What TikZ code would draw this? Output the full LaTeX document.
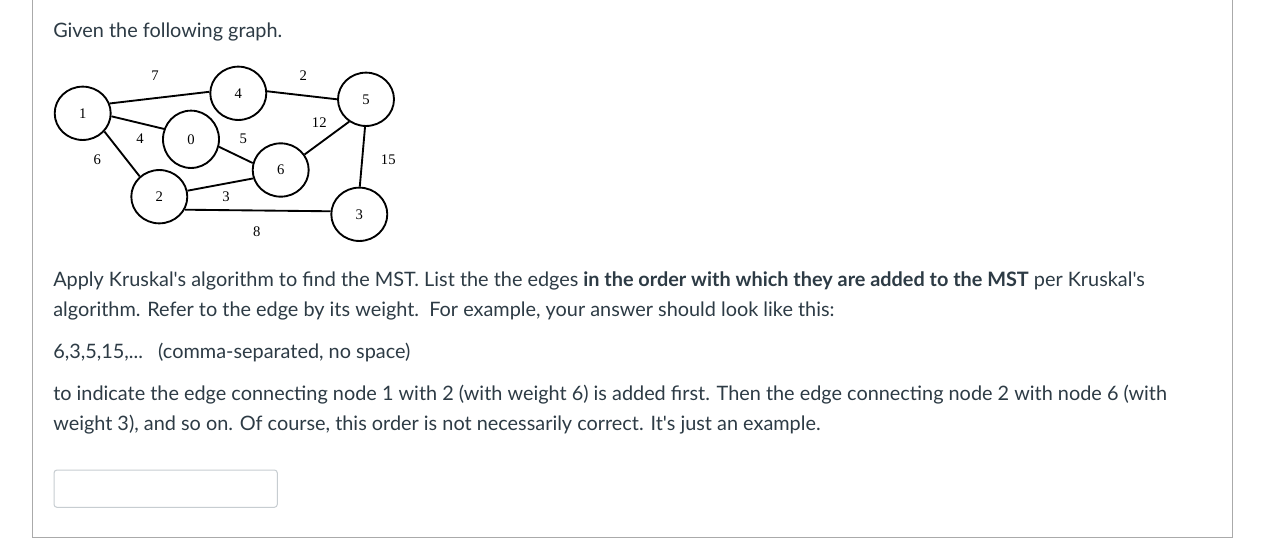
\documentclass[tikz,border=0pt]{standalone}
\usepackage{fontspec}
\setmainfont{Lato}[Ligatures=TeXOff]
\newfontfamily\graphfont{Liberation Serif}
\usetikzlibrary{shapes.geometric,positioning}
\definecolor{canvastext}{HTML}{2D3B45}
\definecolor{framegray}{HTML}{AAAAAA}
\definecolor{boxgray}{HTML}{C7CDD1}

\begin{document}
\begin{tikzpicture}[
    x=0.75pt, y=-0.75pt,
    vertex/.style={ellipse, draw, line width=1.4pt, minimum width=42pt, minimum height=40pt, inner sep=0pt, font=\graphfont\fontsize{11}{11}\selectfont},
    weight/.style={inner sep=0pt, font=\graphfont\fontsize{11}{11}\selectfont},
    edge/.style={line width=1.4pt},
    para/.style={anchor=base west, inner sep=0pt, text=canvastext, font=\fontsize{14.9}{18}\selectfont}
]
    \useasboundingbox (0,0) rectangle (1268,542);
    \fill[white] (0,0) rectangle (1268,542);

    % frame of the question
    \draw[framegray, line width=1pt] (32.5,0) -- (32.5,537.5) -- (1232.5,537.5) -- (1232.5,0);

    \node[para] (intro) at (53,38) {Given the following graph.};

    % the graph
    \node[vertex] (n1) at (82.7,113.3) {1};
    \node[vertex] (n4) at (238.3,93.3) {4};
    \node[vertex] (n5) at (366,99.3) {5};
    \node[vertex, minimum height=43pt] (n0) at (191,139.3) {0};
    \node[vertex] (n6) at (280.7,170) {6};
    \node[vertex] (n2) at (159.3,196.7) {2};
    \node[vertex] (n3) at (359.3,214.3) {3};

    \draw[edge] (n1.20) -- (n4.177);
    \draw[edge] (n1.-6) -- (n0.159);
    \draw[edge] (n1.-40) -- (n2.134);
    \draw[edge] (n4.4) -- (n5.180);
    \draw[edge] (n0.-15) -- (n6.166);
    \draw[edge] (n6.33) -- (n5.-127);
    \draw[edge] (n5.-92) -- (n3.89);
    \draw[edge] (n2.12) -- (n6.-163);
    \draw[edge] (n2.-27) -- (n3.174);

    \node[weight] (w7) at (155,76) {7};
    \node[weight] (w2) at (303.3,76) {2};
    \node[weight] (w4) at (140,138.3) {4};
    \node[weight] (w5) at (243.3,138.3) {5};
    \node[weight] (w12) at (319.3,122.7) {12};
    \node[weight] (w6) at (97.3,159.3) {6};
    \node[weight] (w15) at (388.3,159.3) {15};
    \node[weight] (w3) at (226,196.7) {3};
    \node[weight] (w8) at (256.7,231.7) {8};

    % question text
    \node[para] (line1) at (53,286) {Apply Kruskal's algorithm to find the MST. List the the edges \textbf{in the order with which they are added to the MST} per Kruskal's};
    \node[para] (line2) at (53,316) {algorithm. Refer to the edge by its weight.\ \ For example, your answer should look like this:};
    \node[para] (line3) at (53,358) {6,3,5,15,...\ \ \ (comma-separated, no space)};
    \node[para] (line4) at (53,400) {to indicate the edge connecting node 1 with 2 (with weight 6) is added first. Then the edge connecting node 2 with node 6 (with};
    \node[para] (line5) at (53,430) {weight 3), and so on. Of course, this order is not necessarily correct. It's just an example.};

    % answer field
    \node[draw=boxgray, line width=0.75pt, rounded corners=2.25pt, minimum width=167.5pt, minimum height=28pt, anchor=north west] (answer) at (53.5,469.5) {};
\end{tikzpicture}
\end{document}
